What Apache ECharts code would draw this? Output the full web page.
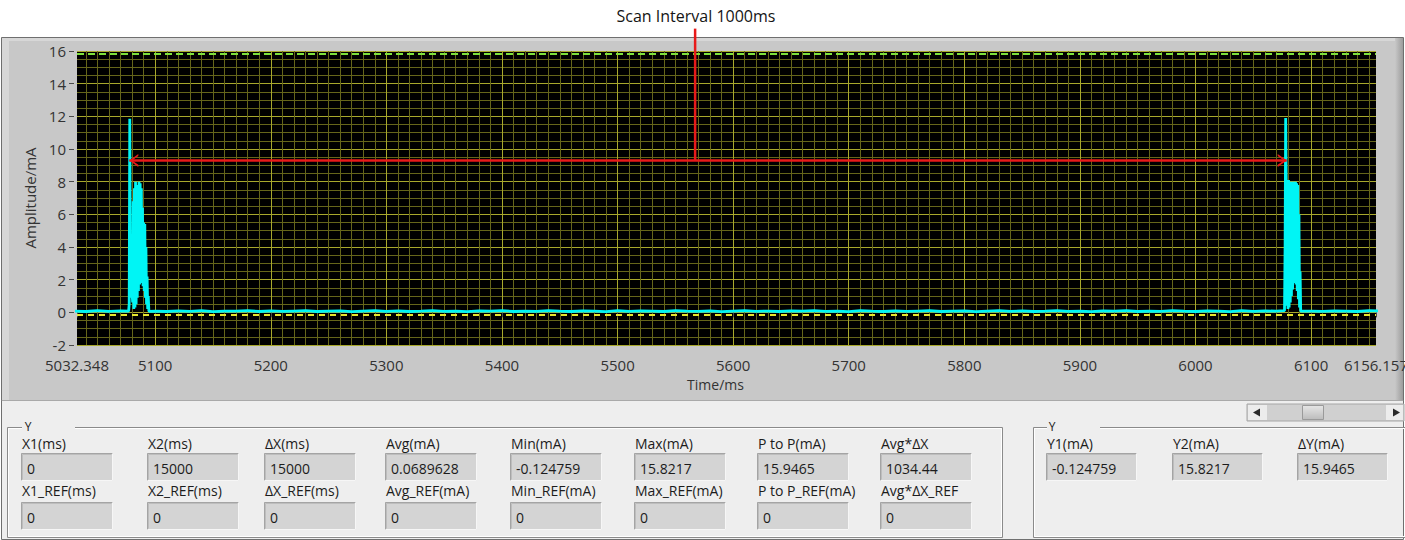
<!DOCTYPE html>
<html><head><meta charset="utf-8">
<script src="https://cdn.jsdelivr.net/npm/echarts@6/dist/echarts.min.js"></script>
<style>html,body{margin:0;padding:0;background:#fff}#c{width:1405px;height:540px}</style>
</head><body><div id="c"></div>
<script>
// ---------- data ----------
const X_MIN = 5032.348, X_MAX = 6156.157;
const Y_MIN = -2, Y_MAX = 16, Y_STEP = 2;
const xTicks = [5032.348, 5100, 5200, 5300, 5400, 5500, 5600, 5700, 5800, 5900, 6000, 6100, 6156.157];
const xTickLabels = ['5032.348', '5100', '5200', '5300', '5400', '5500', '5600', '5700', '5800', '5900', '6000', '6100', '6156.157'];

// baseline samples (every 10 ms from 5030 ms)
const baseStart = 5030, baseStep = 10;
const baseline = [
  0.08,0.05,0.10,0.06,0.09,0.04,0.11,0.07,0.05,0.09,
  0.06,0.10,0.04,0.08,0.07,0.11,0.05,0.09,0.06,0.08,
  0.10,0.05,0.07,0.09,0.04,0.08,0.11,0.06,0.09,0.05,
  0.07,0.10,0.06,0.08,0.04,0.09,0.07,0.11,0.05,0.08,
  0.06,0.10,0.07,0.05,0.09,0.08,0.04,0.10,0.06,0.09,
  0.07,0.05,0.11,0.08,0.06,0.09,0.04,0.07,0.10,0.06,
  0.08,0.05,0.09,0.07,0.11,0.06,0.08,0.04,0.10,0.07,
  0.05,0.09,0.06,0.08,0.10,0.05,0.07,0.09,0.04,0.08,
  0.11,0.06,0.09,0.05,0.07,0.10,0.06,0.08,0.04,0.09,
  0.07,0.11,0.05,0.08,0.06,0.10,0.07,0.05,0.09,0.08,
  0.04,0.10,0.06,0.09,0.07,0.05,0.11,0.08,0.06,0.09,
  0.07,0.05,0.10,0.08
];
// pulse bursts (sampled every 0.5 ms)
const pulseStep = 0.5;
const pulse1Start = 5077.0;
const pulse1 = [0.08,0.5,11.85,3.0,1.6,0.9,1.2,0.6,6.8,0.2,7.6,0.3,8.0,0.5,7.7,0.9,7.8,1.3,8.0,1.7,
  7.9,1.9,7.6,1.8,6.4,1.6,5.5,1.3,5.4,0.9,4.0,0.5,2.2,0.2,1.0,0.1,0.06];
const pulse2Start = 6077.0;
const pulse2 = [0.1,4.0,11.9,7.8,0.4,8.1,0.2,8.1,0.3,8.0,0.6,8.0,1.0,8.0,1.4,8.0,1.8,7.9,1.9,8.0,
  1.7,7.9,1.3,7.8,0.8,6.0,0.3,2.5,0.08];

// cursors and annotation
const cursorY1 = -0.124759, cursorY2 = 15.8217;
const scanArrowX = [5077.6, 6078.9];
const scanArrowY = 9.3;
const scanLeaderX = 5567.1, scanLeaderTopY = 17.37;
const scanLabel = 'Scan Interval 1000ms';

// readouts
const xGroupTitle = 'Y', yGroupTitle = 'Y';
const readLabels = ['X1(ms)', 'X2(ms)', 'ΔX(ms)', 'Avg(mA)', 'Min(mA)', 'Max(mA)', 'P to P(mA)', 'Avg*ΔX'];
const readValues = ['0', '15000', '15000', '0.0689628', '-0.124759', '15.8217', '15.9465', '1034.44'];
const refLabels = ['X1_REF(ms)', 'X2_REF(ms)', 'ΔX_REF(ms)', 'Avg_REF(mA)', 'Min_REF(mA)', 'Max_REF(mA)', 'P to P_REF(mA)', 'Avg*ΔX_REF'];
const refValues = ['0', '0', '0', '0', '0', '0', '0', '0'];
const yReadLabels = ['Y1(mA)', 'Y2(mA)', 'ΔY(mA)'];
const yReadValues = ['-0.124759', '15.8217', '15.9465'];

// ---------- build series data ----------
const p1End = pulse1Start + (pulse1.length - 1) * pulseStep;
const p2End = pulse2Start + (pulse2.length - 1) * pulseStep;
const signal = [];
baseline.forEach((v, i) => {
  const t = baseStart + i * baseStep;
  if ((t >= pulse1Start && t <= p1End) || (t >= pulse2Start && t <= p2End)) return;
  signal.push([t, v]);
});
pulse1.forEach((v, i) => signal.push([pulse1Start + i * pulseStep, v]));
pulse2.forEach((v, i) => signal.push([pulse2Start + i * pulseStep, v]));
signal.sort((a, b) => a[0] - b[0]);

// grid line positions
const majorX = xTicks.slice(1, -1);
const minorX = [];
for (let t = 5040; t < X_MAX; t += 10) minorX.push(t);

// ---------- styling ----------
const FONT = '"Open Sans", "Noto Sans", sans-serif';
const MAJOR = '#a8a82c', MINOR = '#66661a';
const CYAN = '#00f5f5', RED = '#e81a1a';
const chevron = 'path://M50,-70 L50.01,-70 L50,-69.99 Z M0,70 L50,0 L100,70 L84,70 L50,22 L16,70 Z';

// ---------- graphic (panel chrome) ----------
const G = [];
function rect(x, y, w, h, fill, stroke, z) {
  G.push({ type: 'rect', silent: true, z: z == null ? -10 : z, shape: { x, y, width: w, height: h },
    style: { fill, stroke: stroke || null, lineWidth: stroke ? 1 : 0 } });
}
function pline(points, stroke, z) {
  G.push({ type: 'polyline', silent: true, z: z == null ? 1 : z, shape: { points }, style: { stroke, fill: null, lineWidth: 1 } });
}
function txt(s, x, y, size, opts) {
  opts = opts || {};
  G.push({ type: 'text', silent: true, z: opts.z == null ? 5 : opts.z, x: 0, y: 0,
    style: { text: s, x, y, fill: opts.color || '#1c1c1c', font: size + 'px ' + FONT,
      textAlign: opts.align || 'left', align: opts.align || 'left',
      textVerticalAlign: 'middle', verticalAlign: 'middle' } });
}
function field(x, y, w, h, val) {
  rect(x, y, w, h, '#d4d4d4', null, 2);
  pline([[x + 0.5, y + h - 0.5], [x + 0.5, y + 0.5], [x + w - 0.5, y + 0.5]], '#a4a4a4', 3);
  pline([[x + 1.5, y + h - 1.5], [x + 1.5, y + 1.5], [x + w - 1.5, y + 1.5]], '#bdbdbd', 3);
  pline([[x + 0.5, y + h - 0.5], [x + w - 0.5, y + h - 0.5], [x + w - 0.5, y + 0.5]], '#f6f6f6', 3);
  txt(val, x + 6, y + h / 2 + 1, 14);
}
function groupBox(l, t, r, b, g1, g2) {
  const d = [[g1, t + 0.5], [l + 0.5, t + 0.5], [l + 0.5, b + 0.5], [r + 0.5, b + 0.5], [r + 0.5, t + 0.5], [g2, t + 0.5]];
  const w = [[g1, t + 1.5], [l + 1.5, t + 1.5], [l + 1.5, b - 0.5], [r - 0.5, b - 0.5], [r - 0.5, t + 1.5], [g2, t + 1.5]];
  pline(d, '#8a8a8a', 1);
  pline(w, '#ffffff', 1);
}

// graph frame
rect(1.5, 37.5, 1402, 363, '#c8c8c8', '#6f6f6f');
rect(2, 38, 7, 362, '#d7d7d7');
rect(2, 38, 1401, 3, '#d7d7d7');
G.push({ type: 'rect', silent: true, z: -9, shape: { x: 1395, y: 38, width: 8, height: 362 },
  style: { fill: { type: 'linear', x: 0, y: 0, x2: 1, y2: 0, colorStops: [{ offset: 0, color: '#c8c8c8' }, { offset: 1, color: '#9c9c9c' }] } } });
// bottom panel
rect(1.5, 400.5, 1402, 139, '#eeeeee', '#6f6f6f');
pline([[2, 400.5], [1403, 400.5]], '#a9a9a9', -8);

// scrollbar
rect(1247, 404, 157, 17, '#d0d0d0', '#a6a6a6', 1);
rect(1248, 405, 19, 15, '#ececec', null, 2);
rect(1386, 405, 17, 15, '#ececec', null, 2);
G.push({ type: 'rect', silent: true, z: 3, shape: { x: 1302.5, y: 405.5, width: 21, height: 14 },
  style: { stroke: '#9a9a9a', lineWidth: 1, fill: { type: 'linear', x: 0, y: 0, x2: 0, y2: 1, colorStops: [{ offset: 0, color: '#e6e6e6' }, { offset: 1, color: '#bcbcbc' }] } } });
G.push({ type: 'polygon', silent: true, z: 4, shape: { points: [[1253, 412.5], [1260, 408.5], [1260, 416.5]] }, style: { fill: '#2a2a2a' } });
G.push({ type: 'polygon', silent: true, z: 4, shape: { points: [[1400, 412.5], [1393, 408.5], [1393, 416.5]] }, style: { fill: '#2a2a2a' } });

// group boxes
groupBox(7, 427, 1002, 537, 22, 75);
groupBox(1033, 427, 1412, 537, 1047, 1100);

const colX = [21, 147, 264, 385, 510, 634, 757, 880];
const yColX = [1046, 1172, 1297];
readLabels.forEach((s, i) => { txt(s, colX[i] + 1, 443, 14); field(colX[i], 453, 92, 28, readValues[i]); });
refLabels.forEach((s, i) => { txt(s, colX[i] + 1, 490, 14); field(colX[i], 502, 92, 28, refValues[i]); });
txt(xGroupTitle, 28, 426, 12, { align: 'center', z: 6 });
txt(yGroupTitle, 1052, 426, 12, { align: 'center', z: 6 });
yReadLabels.forEach((s, i) => { txt(s, yColX[i] + 1, 443, 14); field(yColX[i], 453, 91, 28, yReadValues[i]); });
// annotation title
txt(scanLabel, 696, 16, 16, { align: 'center', color: '#141414' });

// ---------- chart ----------
const chart = echarts.init(document.getElementById('c'), null, { renderer: 'svg' });
chart.setOption({
  animation: false,
  backgroundColor: '#ffffff',
  textStyle: { fontFamily: FONT },
  graphic: { elements: G },
  grid: { left: 77, right: 29, top: 51, bottom: 195, show: true, backgroundColor: '#000000', borderWidth: 0,
    containLabel: false, outerBoundsMode: 'none' },
  xAxis: [
    { type: 'value', min: X_MIN, max: X_MAX, position: 'bottom', offset: 3,
      axisLine: { show: false },
      axisTick: { show: true, length: 5, customValues: xTicks, lineStyle: { color: '#4a4a4a', width: 1 } },
      axisLabel: { customValues: xTicks, margin: 9, fontSize: 15, color: '#333', fontFamily: FONT,
        formatter: v => { const i = xTicks.findIndex(t => Math.abs(t - v) < 1e-6); return i >= 0 ? xTickLabels[i] : String(v); } },
      splitLine: { show: false },
      name: 'Time/ms', nameLocation: 'middle', nameGap: 29,
      nameTextStyle: { fontSize: 14, color: '#333', fontFamily: FONT, padding: [0, 22, 0, 0] } },
    { type: 'value', min: X_MIN, max: X_MAX, position: 'top',
      axisLine: { show: false }, axisTick: { show: false, customValues: minorX }, axisLabel: { show: false },
      splitLine: { show: true, lineStyle: { color: MINOR, width: 1 } } },
    { type: 'value', min: X_MIN, max: X_MAX, position: 'top',
      axisLine: { show: false }, axisTick: { show: false, customValues: majorX }, axisLabel: { show: false },
      splitLine: { show: true, lineStyle: { color: MAJOR, width: 1 } } }
  ],
  yAxis: { type: 'value', min: Y_MIN, max: Y_MAX, interval: Y_STEP, offset: 3,
    axisLine: { show: false },
    axisTick: { show: true, length: 5, lineStyle: { color: '#4a4a4a', width: 1 } },
    axisLabel: { margin: 8, fontSize: 15, color: '#333', fontFamily: FONT },
    splitLine: { show: true, lineStyle: { color: MAJOR, width: 1 } },
    minorTick: { show: false, splitNumber: 4 },
    minorSplitLine: { show: true, lineStyle: { color: MINOR, width: 1 } },
    name: 'Amplitude/mA', nameLocation: 'middle', nameGap: 31,
    nameTextStyle: { fontSize: 15, color: '#333', fontFamily: FONT } },
  series: [
    { type: 'line', name: 'signal', xAxisIndex: 0, data: signal, showSymbol: false, symbol: 'none',
      lineStyle: { color: CYAN, width: 2.8 }, z: 3, silent: true,
      markLine: { silent: true, symbol: 'none', label: { show: false },
        data: [
          { yAxis: cursorY1, lineStyle: { color: '#e6e62e', width: 2, type: [6, 5] } },
          { yAxis: cursorY2, lineStyle: { color: '#7ee23c', width: 2, type: [7, 4] } }
        ] } },
    { type: 'line', name: 'scan', xAxisIndex: 0, clip: false, silent: true, showSymbol: false, symbol: 'none',
      data: [[scanLeaderX, scanArrowY], [scanLeaderX, scanLeaderTopY]],
      lineStyle: { color: RED, width: 2.5 }, z: 6,
      markLine: { silent: true, symbol: [chevron, chevron], symbolSize: [13, 18], label: { show: false },
        lineStyle: { color: RED, width: 2.5, type: 'solid' },
        data: [[{ coord: [scanArrowX[0], scanArrowY] }, { coord: [scanArrowX[1], scanArrowY] }]] } }
  ]
});
</script></body></html>
